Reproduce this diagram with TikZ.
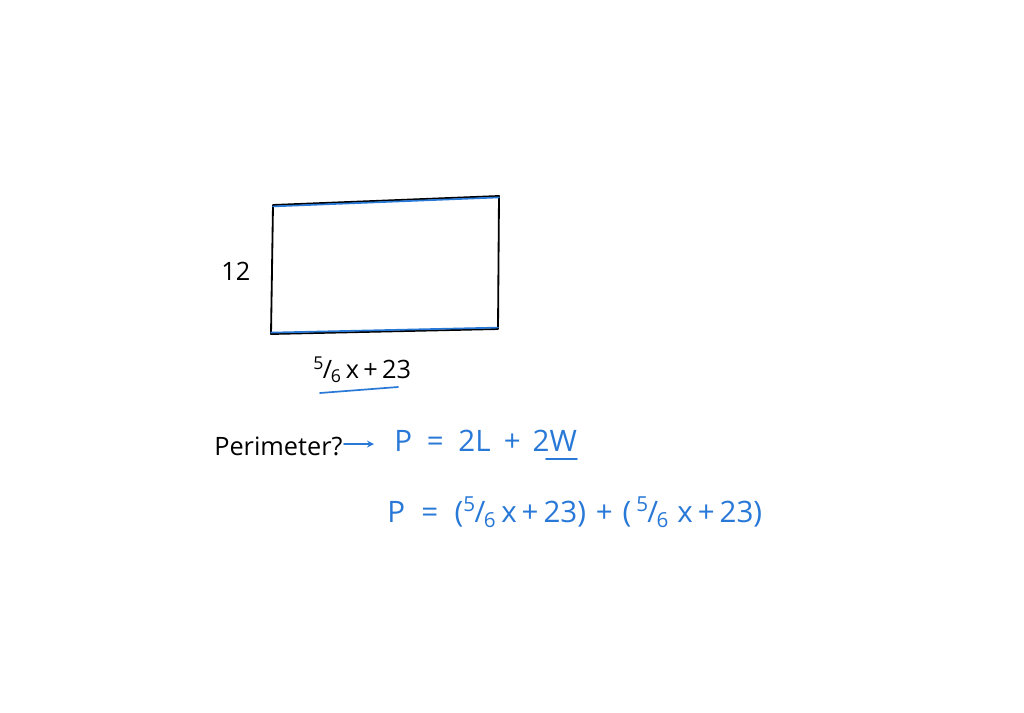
\documentclass[tikz,border=0pt]{standalone}
\usepackage{fontspec}
\setmainfont{Open Sans}
\usepackage{tikz}

\definecolor{penblue}{RGB}{40,120,215}
\newcommand{\fivesix}{\textsuperscript{5}\kern-0.05em/\kern-0.05em\textsubscript{6}}

\begin{document}
\begin{tikzpicture}[x=0.025cm,y=-0.025cm,
        ink/.style={black,line width=1.3pt,line join=round,line cap=round},
        bluepen/.style={penblue,line width=1.2pt,line cap=round},
        hand/.style={font=\fontsize{18}{22}\selectfont,inner sep=0pt,anchor=west},
        bluehand/.style={hand,font=\fontsize{21}{24}\selectfont,text=penblue}]
                \fill[white] (0,0) rectangle (1024,712);
                % rectangle
                \coordinate (tl) at (273,205);
                \coordinate (tr) at (499,196);
                \coordinate (br) at (498,329);
                \coordinate (bl) at (271,334);
                \draw[ink] (tl) -- (tr) -- (br) -- (bl) -- cycle;
                \draw[bluepen] ([yshift=-1pt]tl) -- ([yshift=-1pt]tr);
                \draw[bluepen] ([yshift=1pt]bl) -- ([yshift=1pt]br);
                \node[hand] (w) at (221,271) {12};
                \node[hand] (l) at (313,370) {\fivesix\,x\,+\,23};
                \coordinate (lu1) at (320,393);
                \coordinate (lu2) at (398,387);
                \draw[bluepen] (lu1) -- (lu2);
                % perimeter
                \node[hand] (q) at (214,446) {Perimeter?};
                \coordinate (a1) at (344,444);
                \coordinate (a2) at (374,444);
                \draw[bluepen,-stealth] (a1) -- (a2);
                \node[bluehand] (p1) at (394,441) {P\hspace{0.5em}=\hspace{0.5em}2L\hspace{0.45em}+\hspace{0.4em}2W};
                \coordinate (wu1) at (546,459);
                \coordinate (wu2) at (577,459);
                \draw[bluepen] (wu1) -- (wu2);
                \node[bluehand] (p2) at (387,512) {P\;\;=\;\;(\fivesix\,x\,+\,23)\,\,+\,\,(\,\fivesix\;x\,+\,23)};
\end{tikzpicture}
\end{document}
